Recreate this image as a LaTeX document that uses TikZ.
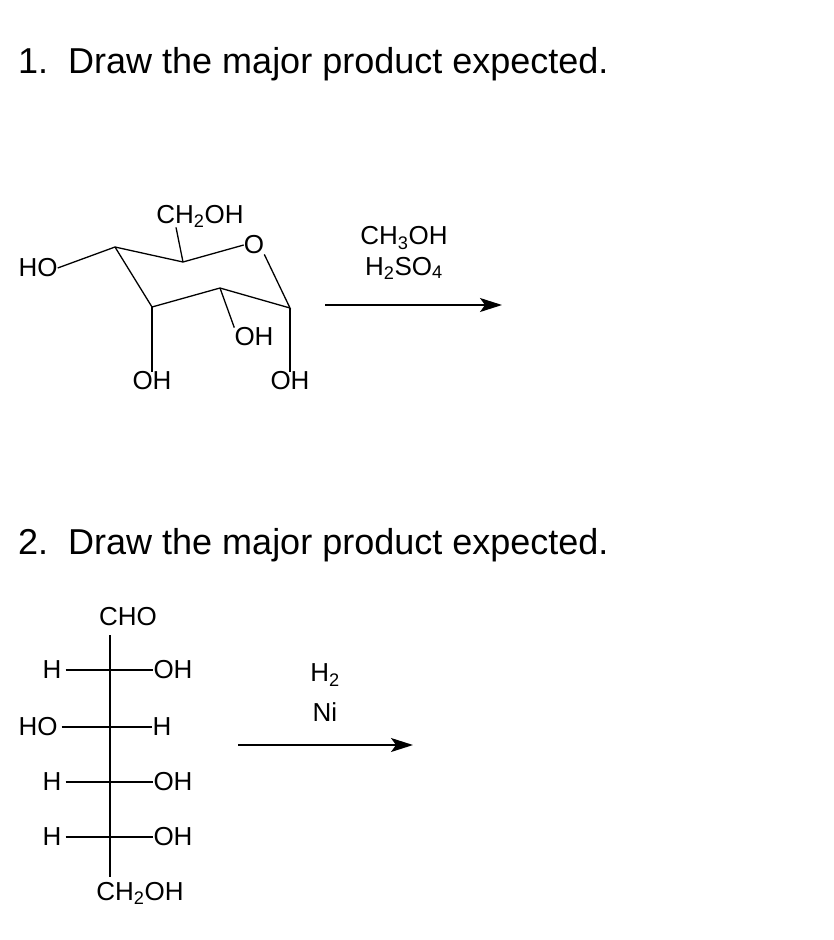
\documentclass[tikz,border=0pt]{standalone}
\usepackage{fontspec}
\setmainfont{Liberation Sans}
\usetikzlibrary{arrows.meta}
\newcommand{\sbs}[1]{\textsubscript{#1}}
\begin{document}
\begin{tikzpicture}[x=1pt,y=-1pt,
  bond/.style={line width=1.3pt},
  lab/.style={font=\fontsize{26}{28}\selectfont,inner sep=0pt},
  ttl/.style={font=\fontsize{36}{40}\selectfont,anchor=base west,inner sep=0pt},
  rxn/.style={line width=1.6pt,-{Stealth[length=22pt,width=14pt,inset=5pt]}}]
\useasboundingbox (0,0) rectangle (834,940);
\node[ttl] (t1) at (18,73) {1.\ \ Draw the major product expected.};
\node[ttl] (t2) at (18,554) {2.\ \ Draw the major product expected.};
% chair
\coordinate (c4) at (115,247);
\coordinate (c5) at (183,262);
\coordinate (c1) at (290,308);
\coordinate (c2) at (220,288);
\coordinate (c3) at (152,307);
\node[lab] (ho) at (38,268) {HO};
\node[lab] (ch) at (200,216) {CH\sbs{2}OH};
\node[lab] (o) at (254,245) {O};
\node[lab] (oh1) at (290,381) {OH};
\node[lab] (oh2) at (254,337) {OH};
\node[lab] (oh3) at (152,381) {OH};
\draw[bond] (ho.east) -- (c4) -- (c5) -- (o.west);
\draw[bond] (c5) -- (ch.south -| 176,0);
\draw[bond] (o.south east) -- (c1) -- (c2) -- (c3) -- (c4);
\draw[bond] (c1) -- (oh1.north);
\draw[bond] (c3) -- (oh3.north);
\draw[bond] (c2) -- (oh2.north west);
\coordinate (a1s) at (325,305);
\coordinate (a1e) at (502,305);
\draw[rxn] (a1s) -- (a1e);
\node[lab] (r1) at (404,238) {CH\sbs{3}OH};
\node[lab] (r2) at (404,268) {H\sbs{2}SO\sbs{4}};
% Fischer
\node[lab] (cho) at (128,617) {CHO};
\node[lab] (bot) at (140,893) {CH\sbs{2}OH};
\coordinate (top) at (110,635);
\coordinate (btm) at (110,877);
\draw[bond] (top) -- (btm);
\node[lab] (h1) at (52,670) {H};
\node[lab] (o1) at (173,670) {OH};
\node[lab] (ho2) at (38,727) {HO};
\node[lab] (h2r) at (162,727) {H};
\node[lab] (h3) at (52,782) {H};
\node[lab] (o3) at (173,782) {OH};
\node[lab] (h4) at (52,837) {H};
\node[lab] (o4) at (173,837) {OH};
\draw[bond] (h1.east) ++(4,0) -- (o1.west);
\draw[bond] (ho2.east) ++(4,0) -- (h2r.west);
\draw[bond] (h3.east) ++(4,0) -- (o3.west);
\draw[bond] (h4.east) ++(4,0) -- (o4.west);
\coordinate (a2s) at (238,745);
\coordinate (a2e) at (413,745);
\draw[rxn] (a2s) -- (a2e);
\node[lab] (r3) at (325,675) {H\sbs{2}};
\node[lab] (r4) at (325,712) {Ni};
\end{tikzpicture}
\end{document}
